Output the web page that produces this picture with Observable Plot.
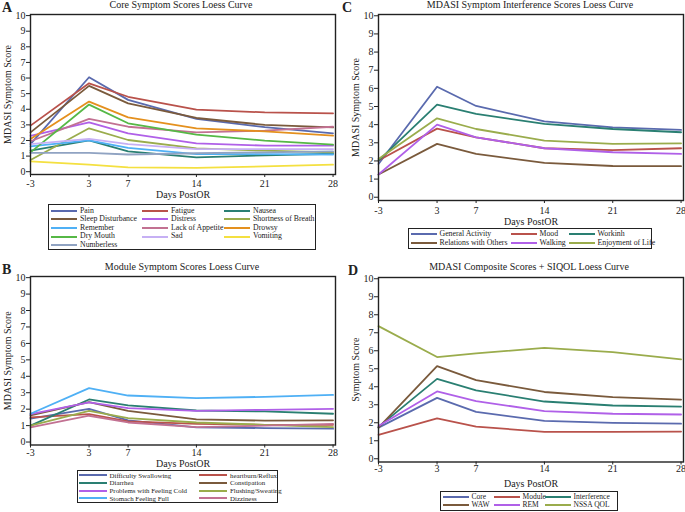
<!DOCTYPE html>
<html><head><meta charset="utf-8">
<script src="https://cdn.jsdelivr.net/npm/d3@7"></script>
<script src="https://cdn.jsdelivr.net/npm/@observablehq/plot@0.6"></script>
<style>
body{margin:0;background:#fff;}
#wrap{position:relative;width:685px;height:512px;overflow:hidden;font-family:"Liberation Serif","Times New Roman",serif;color:#222;background:#fff;}
.panel{position:absolute;}
.title{position:absolute;font-size:10px;white-space:nowrap;transform:translate(-50%,-50%);}
.letter{position:absolute;font-size:14px;font-weight:bold;line-height:1;}
.legend{position:absolute;border:1.4px solid #222;box-sizing:border-box;}
.item{position:absolute;display:flex;align-items:center;white-space:nowrap;overflow:visible;}
.item span{line-height:inherit;}
.swatch{height:2px;margin-right:3px;flex:none;}
</style></head><body><div id="wrap"></div>
<script>
// ---------- data ----------
const days = [-3, 3, 7, 14, 21, 28];
const xTicks = [-3, 3, 7, 14, 21, 28];
const yTicks = [0, 1, 2, 3, 4, 5, 6, 7, 8, 9, 10];
const palette = ["#5a6aae", "#b9524b", "#2a7f72", "#7a5a3c", "#b060e8", "#9aac4c",
                 "#4fb0f5", "#c27192", "#e4901e", "#56b846", "#c6b0f4", "#f4e040", "#90a3c2"];

const coreNames = ["Pain", "Fatigue", "Nausea", "Sleep Disturbance", "Distress", "Shortness of Breath",
  "Remember", "Lack of Appetite", "Drowsy", "Dry Mouth", "Sad", "Vomiting", "Numberless"];
const coreValues = [
  [1.77, 6.05, 4.60, 3.38, 2.85, 2.46],
  [2.95, 5.66, 4.80, 3.97, 3.80, 3.74],
  [1.35, 2.00, 1.30, 0.92, 1.05, 1.15],
  [2.52, 5.50, 4.38, 3.44, 3.00, 2.84],
  [2.30, 3.16, 2.46, 1.82, 1.67, 1.67],
  [0.75, 2.78, 2.03, 1.50, 1.35, 1.24],
  [1.62, 2.00, 1.52, 1.13, 1.13, 1.10],
  [1.95, 3.38, 2.88, 2.52, 2.63, 2.88],
  [2.10, 4.49, 3.48, 2.78, 2.58, 2.31],
  [1.24, 4.30, 3.10, 2.37, 1.99, 1.73],
  [1.77, 2.10, 1.77, 1.45, 1.45, 1.45],
  [0.66, 0.45, 0.28, 0.24, 0.34, 0.45],
  [1.20, 1.20, 1.10, 1.18, 1.24, 1.30]
];

const moduleNames = ["Difficulty Swallowing", "heartburn/Reflux", "Diarrhea", "Constipation",
  "Problems with Feeling Cold", "Flushing/Sweating", "Stomach Feeling Full", "Dizziness"];
const moduleValues = [
  [1.42, 2.02, 1.32, 0.89, 0.85, 0.81],
  [1.50, 1.70, 1.26, 1.11, 1.05, 1.05],
  [1.00, 2.59, 2.23, 1.92, 1.86, 1.72],
  [1.62, 2.43, 1.90, 1.38, 1.30, 1.32],
  [1.70, 2.41, 2.06, 1.90, 1.96, 2.02],
  [1.00, 1.90, 1.46, 1.19, 1.05, 0.91],
  [1.72, 3.28, 2.83, 2.67, 2.75, 2.87],
  [0.89, 1.60, 1.19, 0.91, 1.00, 1.11]
];

const interNames = ["General Activity", "Mood", "Workinh", "Relations with Others", "Walking", "Enjoyment of Life"];
const interValues = [
  [1.83, 6.09, 5.03, 4.18, 3.85, 3.71],
  [2.02, 3.78, 3.30, 2.70, 2.60, 2.70],
  [2.02, 5.10, 4.59, 4.04, 3.76, 3.58],
  [1.25, 2.94, 2.39, 1.89, 1.72, 1.71],
  [1.25, 4.00, 3.30, 2.70, 2.48, 2.39],
  [2.11, 4.35, 3.76, 3.12, 2.94, 2.97]
];

const compNames = ["Core", "Module", "Interference", "WAW", "REM", "NSSA QOL"];
const compValues = [
  [1.73, 3.38, 2.61, 2.10, 1.99, 1.95],
  [1.33, 2.24, 1.79, 1.49, 1.49, 1.51],
  [1.77, 4.44, 3.80, 3.18, 2.96, 2.90],
  [1.73, 5.15, 4.37, 3.71, 3.42, 3.29],
  [1.82, 3.74, 3.20, 2.65, 2.50, 2.46],
  [7.37, 5.65, 5.85, 6.16, 5.92, 5.52]
];

// ---------- drawing ----------
const wrap = document.getElementById("wrap");

function panel(o) {
  const data = o.names.flatMap((n, i) => days.map((d, j) => ({day: d, score: o.values[i][j], series: n})));
  const chart = Plot.plot({
    width: o.width, height: o.height,
    marginTop: o.mt, marginBottom: o.mb, marginLeft: o.ml, marginRight: o.mr,
    style: {fontFamily: "Liberation Serif, Times New Roman, serif", fontSize: "10px", color: "#222", background: "transparent"},
    x: {domain: [-3, 28.25]},
    y: {domain: [-0.18, 10.07]},
    color: {domain: o.names, range: palette.slice(0, o.names.length)},
    marks: [
      Plot.axisX({ticks: xTicks, tickFormat: d => String(d), tickSize: 3, tickPadding: o.xpad,
        label: "Days PostOR", labelAnchor: "center", labelArrow: "none", labelOffset: o.xlab, fontSize: 10}),
      Plot.axisY({ticks: yTicks, tickFormat: d => String(d), tickSize: 4, tickPadding: 1,
        label: o.ylabel, labelAnchor: "center", labelArrow: "none", labelOffset: o.ylab, fontSize: 10}),
      Plot.line(data, {x: "day", y: "score", z: "series", stroke: "series", strokeWidth: 1.8}),
      Plot.frame({stroke: "#222", strokeWidth: 1.4})
    ]
  });
  chart.classList.add("panel");
  chart.style.left = o.left + "px";
  chart.style.top = o.top + "px";
  wrap.appendChild(chart);

  const t = document.createElement("div");
  t.className = "title"; t.textContent = o.title;
  t.style.left = o.tx + "px"; t.style.top = o.ty + "px";
  wrap.appendChild(t);

  const L = document.createElement("div");
  L.className = "letter"; L.textContent = o.letter;
  L.style.left = o.lx + "px"; L.style.top = o.ly + "px";
  wrap.appendChild(L);

  const lg = o.legend;
  const box = document.createElement("div");
  box.className = "legend";
  Object.assign(box.style, {left: lg.left + "px", top: lg.top + "px", width: lg.width + "px", height: lg.height + "px"});
  const ncol = lg.cols.length;
  o.names.forEach((n, i) => {
    const r = Math.floor(i / ncol), c = i % ncol;
    const it = document.createElement("div");
    it.className = "item";
    Object.assign(it.style, {left: lg.cols[c] + "px", top: (lg.row0 + r * lg.rowH) + "px",
      height: lg.rowH + "px", lineHeight: lg.rowH + "px", fontSize: lg.fs + "px"});
    const sw = document.createElement("span");
    sw.className = "swatch";
    sw.style.width = lg.sw + "px";
    sw.style.background = palette[i];
    const tx = document.createElement("span");
    tx.textContent = n;
    it.appendChild(sw); it.appendChild(tx);
    box.appendChild(it);
  });
  wrap.appendChild(box);
}

panel({names: coreNames, values: coreValues, left: 0, top: 0, width: 340, height: 202,
  mt: 14, mb: 28, ml: 30, mr: 5, xpad: 2, xlab: 23, ylab: 27, ylabel: "MDASI Symptom Score",
  title: "Core Symptom Scores Loess Curve", tx: 181, ty: 4, letter: "A", lx: 2, ly: 1,
  legend: {left: 48, top: 204, width: 268, height: 46, cols: [2, 93, 175], row0: 1.5, rowH: 8.6, fs: 7.8, sw: 26}});

panel({names: moduleNames, values: moduleValues, left: 0, top: 262, width: 340, height: 210,
  mt: 14, mb: 27.5, ml: 30, mr: 5, xpad: 1, xlab: 21.5, ylab: 27, ylabel: "MDASI Symptom Score",
  title: "Module Symptom Scores Loess Curve", tx: 182, ty: 266, letter: "B", lx: 2, ly: 263,
  legend: {left: 77, top: 470, width: 201, height: 33, cols: [0.5, 121], row0: 0.6, rowH: 7.65, fs: 6.9, sw: 28}});

panel({names: interNames, values: interValues, left: 340, top: 0, width: 345, height: 228,
  mt: 14, mb: 28, ml: 38, mr: 2, xpad: 3, xlab: 24, ylab: 27, ylabel: "MDASI Symptom Score",
  title: "MDASI Symptom Interference Scores Loess Curve", tx: 530, ty: 4, letter: "C", lx: 342, ly: 1,
  legend: {left: 408, top: 228, width: 244, height: 21, cols: [1.5, 101.5, 159.5], row0: 1.0, rowH: 8.6, fs: 7.8, sw: 26}});

panel({names: compNames, values: compValues, left: 340, top: 262, width: 345, height: 229,
  mt: 15, mb: 29.5, ml: 38, mr: 2, xpad: 0, xlab: 24.5, ylab: 27, ylabel: "Symptom Score",
  title: "MDASI Composite Scores + SIQOL Loess Curve", tx: 529, ty: 266, letter: "D", lx: 348, ly: 264,
  legend: {left: 440, top: 491, width: 178, height: 20, cols: [1.5, 52.5, 103.5], row0: 0.6, rowH: 8.3, fs: 7.5, sw: 26}});
</script>
</body></html>
